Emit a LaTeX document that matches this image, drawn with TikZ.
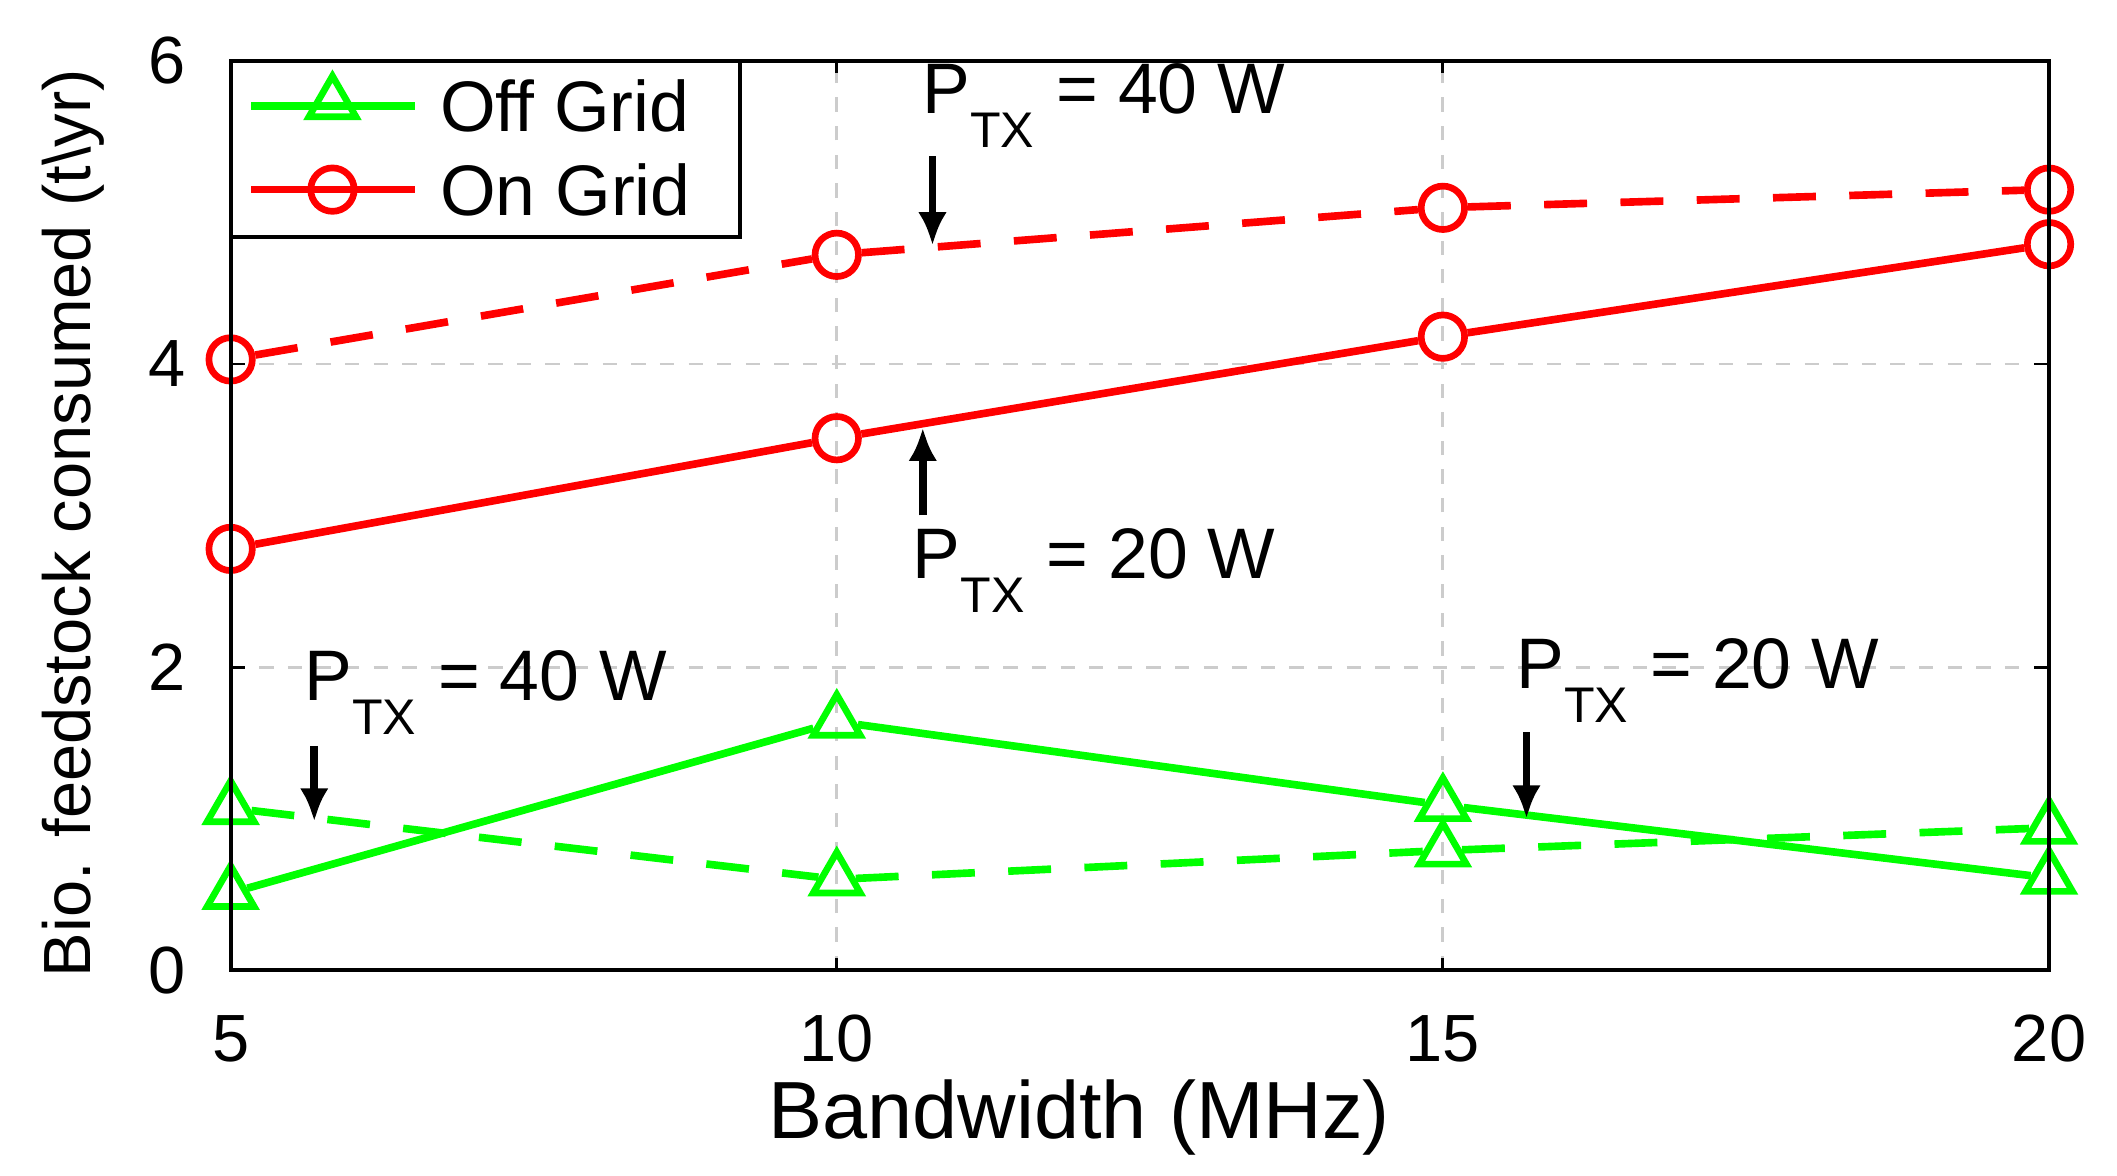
\documentclass[tikz,border=0pt]{standalone}
\usepackage{fontspec}
\setmainfont{Liberation Sans}
\usetikzlibrary{shapes.geometric,arrows.meta}
\definecolor{offgrid}{RGB}{0,255,0}
\definecolor{ongrid}{RGB}{255,0,0}
\tikzset{
  circ/.style={circle, draw=ongrid, line width=1.4pt, minimum size=0.32cm, inner sep=0pt},
  tri/.style={regular polygon, regular polygon sides=3, draw=offgrid, line width=1.4pt, minimum size=0.4cm, inner sep=0pt},
  curve/.style={line width=1.6pt},
  ann/.style={line width=1.6pt, -{Latex[length=7pt,width=6pt]}},
  tick/.style={font=\fontsize{14}{14}\selectfont},
  lbl/.style={font=\fontsize{15}{15}\selectfont, inner sep=0pt}
}
\begin{document}
\begin{tikzpicture}
  \useasboundingbox (0,0) rectangle (15.6,8.66);
  \begin{scope}[shift={(-2.767,1.51)}, xscale=0.8933, yscale=1.117]
    % grid
    \foreach \x in {10,15} \draw[gray!40, dashed, line width=0.6pt] (\x,0) -- (\x,6);
    \foreach \y in {2,4} \draw[gray!40, dashed, line width=0.6pt] (5,\y) -- (20,\y);
    % ticks and labels
    \foreach \x in {5,10,15,20} {
      \draw[line width=0.6pt] (\x,0) -- (\x,0.08);
      \draw[line width=0.6pt] (\x,6) -- (\x,5.92);
      \node[tick] (tx\x) at (\x,-0.45) {\x};
    }
    \foreach \y in {0,2,4,6} {
      \draw[line width=0.6pt] (5,\y) -- (5.12,\y);
      \draw[line width=0.6pt] (20,\y) -- (19.88,\y);
      \node[tick, left=6pt] (ty\y) at (5,\y) {\y};
    }
    % markers
    \foreach \x/\y [count=\i] in {5/4.03,10/4.72,15/5.03,20/5.15} \node[circ] (ra\i) at (\x,\y) {};
    \foreach \x/\y [count=\i] in {5/2.78,10/3.51,15/4.18,20/4.79} \node[circ] (rb\i) at (\x,\y) {};
    \foreach \x/\y [count=\i] in {5/0.51,10/1.64,15/1.09,20/0.61} \node[tri] (ga\i) at (\x,\y) {};
    \foreach \x/\y [count=\i] in {5/1.07,10/0.6,15/0.79,20/0.94} \node[tri] (gb\i) at (\x,\y) {};
    % curves
    \draw[curve, ongrid, dash pattern=on 9pt off 7pt] (ra1) -- (ra2) -- (ra3) -- (ra4);
    \draw[curve, ongrid] (rb1) -- (rb2) -- (rb3) -- (rb4);
    \draw[curve, offgrid] (ga1) -- (ga2) -- (ga3) -- (ga4);
    \draw[curve, offgrid, dash pattern=on 9pt off 7pt] (gb1) -- (gb2) -- (gb3) -- (gb4);
    % annotations
    \coordinate (a1s) at (10.79,5.37); \coordinate (a1e) at (10.79,4.78);
    \coordinate (a2s) at (10.71,3.0);  \coordinate (a2e) at (10.71,3.58);
    \coordinate (a3s) at (5.69,1.48);  \coordinate (a3e) at (5.69,0.98);
    \coordinate (a4s) at (15.69,1.57); \coordinate (a4e) at (15.69,1.0);
    \draw[ann] (a1s) -- (a1e);
    \draw[ann] (a2s) -- (a2e);
    \draw[ann] (a3s) -- (a3e);
    \draw[ann] (a4s) -- (a4e);
    \node[lbl, anchor=south west] (t1) at (10.7,5.42) {P\textsubscript{\raisebox{-0.9ex}{TX}} = 40 W};
    \node[lbl, anchor=north west] (t2) at (10.62,2.92) {P\textsubscript{\raisebox{-0.9ex}{TX}} = 20 W};
    \node[lbl, anchor=south west] (t3) at (5.6,1.55) {P\textsubscript{\raisebox{-0.9ex}{TX}} = 40 W};
    \node[lbl, anchor=south west] (t4) at (15.6,1.63) {P\textsubscript{\raisebox{-0.9ex}{TX}} = 20 W};
    % frame
    \draw[line width=0.8pt] (5,0) rectangle (20,6);
    % legend
    \draw[line width=0.8pt, fill=white] (5,4.84) rectangle (9.2,6);
    \coordinate (l1a) at (5.17,5.7); \coordinate (l1b) at (6.52,5.7);
    \coordinate (l2a) at (5.17,5.15); \coordinate (l2b) at (6.52,5.15);
    \draw[curve, offgrid] (l1a) -- (l1b);
    \draw[curve, ongrid] (l2a) -- (l2b);
    \node[tri] (lg) at (5.84,5.72) {};
    \node[circ] (lr) at (5.84,5.15) {};
    \node[lbl, anchor=west] (lt1) at (6.72,5.7) {Off Grid};
    \node[lbl, anchor=west] (lt2) at (6.72,5.15) {On Grid};
    % axis labels
    \node[font=\fontsize{17}{17}\selectfont] (xl) at (12.0,-0.97) {Bandwidth (MHz)};
    \node[font=\fontsize{14}{14}\selectfont, rotate=90] (yl) at (3.7,2.95) {Bio. feedstock consumed (t\symbol{92}yr)};
  \end{scope}
\end{tikzpicture}
\end{document}
